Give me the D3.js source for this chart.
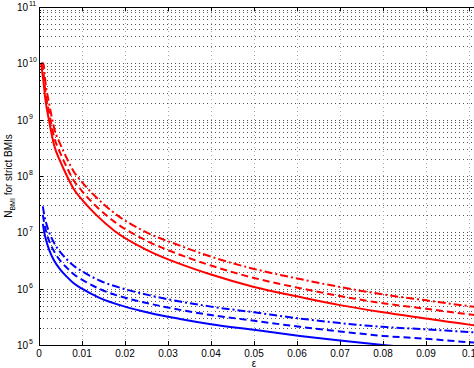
<!DOCTYPE html>
<html>
<head>
<meta charset="utf-8">
<script src="https://cdn.jsdelivr.net/npm/d3@7"></script>
<style>
  html, body { margin: 0; padding: 0; background: #fff; }
  svg { display: block; font-family: "Liberation Sans", Arial, Helvetica, sans-serif; }
</style>
</head>
<body>
<svg id="chart" width="474" height="368"></svg>
<script>
// ---------- data ----------
const epsRed = [0.0005, 0.001, 0.0015, 0.0024, 0.0035, 0.005, 0.0065, 0.008, 0.01, 0.0133, 0.0175, 0.025, 0.0328, 0.04, 0.05, 0.0607, 0.07, 0.08, 0.09, 0.1, 0.103];
const redSolid   = [1e10, 5.0e9, 2.24e9, 9.1e8, 3.55e8, 1.78e8, 1.0e8, 6.0e7, 3.8e7, 2.04e7, 1.07e7, 4.9e6, 2.75e6, 1.78e6, 1.07e6, 7.1e5, 5.1e5, 3.8e5, 2.95e5, 2.3e5, 2.15e5];
const redDashed  = [1e10, 7.1e9, 3.16e9, 1.29e9, 5.0e8, 2.5e8, 1.41e8, 8.5e7, 5.4e7, 2.9e7, 1.55e7, 7.1e6, 4.0e6, 2.57e6, 1.55e6, 1.02e6, 7.4e5, 5.5e5, 4.4e5, 3.5e5, 3.3e5];
const redDashDot = [1e10, 1e10, 4.6e9, 1.86e9, 7.2e8, 3.6e8, 2.04e8, 1.23e8, 7.8e7, 4.2e7, 2.2e7, 1.0e7, 5.8e6, 3.7e6, 2.24e6, 1.48e6, 1.07e6, 7.9e5, 6.2e5, 4.9e5, 4.6e5];

const epsBlue = [0.0009, 0.0012, 0.0018, 0.0025, 0.0035, 0.005, 0.0065, 0.008, 0.01, 0.0142, 0.02, 0.0258, 0.0328, 0.04, 0.05, 0.0607, 0.07, 0.08, 0.09, 0.1, 0.103];
const blueSolid   = [1.41e7, 1.02e7, 6.6e6, 4.6e6, 3.16e6, 2.16e6, 1.62e6, 1.26e6, 1.0e6, 6.8e5, 4.8e5, 3.7e5, 2.9e5, 2.34e5, 1.86e5, 1.45e5, 1.2e5, 1.0e5, 8.5e4, 7.2e4, 6.9e4];
const blueDashed  = [2.04e7, 1.48e7, 9.5e6, 6.6e6, 4.6e6, 3.1e6, 2.34e6, 1.82e6, 1.45e6, 9.8e5, 6.9e5, 5.4e5, 4.2e5, 3.4e5, 2.7e5, 2.1e5, 1.74e5, 1.45e5, 1.29e5, 1.12e5, 1.08e5];
const blueDashDot = [2.9e7, 2.08e7, 1.35e7, 9.4e6, 6.5e6, 4.4e6, 3.3e6, 2.57e6, 2.04e6, 1.38e6, 9.8e5, 7.6e5, 5.9e5, 4.8e5, 3.8e5, 2.95e5, 2.45e5, 2.1e5, 1.9e5, 1.7e5, 1.65e5];

const xTicks = [0, 0.01, 0.02, 0.03, 0.04, 0.05, 0.06, 0.07, 0.08, 0.09, 0.1];
const xTickLabels = ["0", "0.01", "0.02", "0.03", "0.04", "0.05", "0.06", "0.07", "0.08", "0.09", "0.1"];
const yExponents = [5, 6, 7, 8, 9, 10, 11];

const series = [
  { eps: epsRed,  vals: redSolid,    color: "#ff0000", dash: null },
  { eps: epsRed,  vals: redDashed,   color: "#ff0000", dash: "7,4" },
  { eps: epsRed,  vals: redDashDot,  color: "#ff0000", dash: "8,3,2,3" },
  { eps: epsBlue, vals: blueSolid,   color: "#0000ff", dash: null },
  { eps: epsBlue, vals: blueDashed,  color: "#0000ff", dash: "7,4" },
  { eps: epsBlue, vals: blueDashDot, color: "#0000ff", dash: "8,3,2,3" }
];

// ---------- layout ----------
const W = 474, H = 368;
const mLeft = 39, mTop = 7, mBottom = 345, mRight = 469;

const svg = d3.select("#chart");
const x = d3.scaleLinear().domain([0, 0.1]).range([mLeft, mRight]);
const y = d3.scaleLog().domain([1e5, 1e11]).range([mBottom, mTop]);

svg.append("defs").append("clipPath").attr("id", "clip")
  .append("rect").attr("x", mLeft).attr("y", mTop).attr("width", W - mLeft).attr("height", mBottom - mTop);

// ---------- grid ----------
const grid = svg.append("g");
const minorVals = [];
for (let e = 5; e <= 10; e++) for (let k = 1; k <= 9; k++) minorVals.push(k * Math.pow(10, e));
minorVals.push(1e11);
grid.selectAll("line.h").data(minorVals.filter(v => v > 1e5 && v < 1e11)).join("line")
  .attr("x1", mLeft).attr("x2", W)
  .attr("y1", d => Math.round(y(d)) + 0.5).attr("y2", d => Math.round(y(d)) + 0.5)
  .attr("stroke", "#555").attr("stroke-width", 1).attr("stroke-dasharray", "1,3");
grid.selectAll("line.v").data(xTicks.filter(v => v > 0)).join("line")
  .attr("x1", d => Math.round(x(d)) + 0.5).attr("x2", d => Math.round(x(d)) + 0.5)
  .attr("y1", mTop).attr("y2", mBottom)
  .attr("stroke", "#aaa").attr("stroke-width", 1).attr("stroke-dasharray", "1,3");

// ---------- curves ----------
const line = d3.line().curve(d3.curveMonotoneX).x(d => x(d[0])).y(d => y(d[1]));
const curves = svg.append("g").attr("clip-path", "url(#clip)");
series.forEach(s => {
  curves.append("path")
    .datum(s.eps.map((e, i) => [e, s.vals[i]]))
    .attr("d", line)
    .attr("fill", "none")
    .attr("stroke", s.color)
    .attr("stroke-width", 2)
    .attr("stroke-dasharray", s.dash);
});

// ---------- axes box ----------
const axis = svg.append("g").attr("stroke", "#000").attr("stroke-width", 1);
axis.append("line").attr("x1", mLeft + 0.5).attr("x2", mLeft + 0.5).attr("y1", mTop).attr("y2", mBottom + 0.5);
axis.append("line").attr("x1", mLeft).attr("x2", W).attr("y1", mBottom + 0.5).attr("y2", mBottom + 0.5);
axis.append("line").attr("x1", mLeft).attr("x2", W).attr("y1", mTop + 0.5).attr("y2", mTop + 0.5);

xTicks.forEach(t => {
  const px = Math.round(x(t)) + 0.5;
  axis.append("line").attr("x1", px).attr("x2", px).attr("y1", mBottom).attr("y2", mBottom - 4);
  axis.append("line").attr("x1", px).attr("x2", px).attr("y1", mTop).attr("y2", mTop + 4);
});
minorVals.forEach(v => {
  const py = Math.round(y(v)) + 0.5;
  const major = Math.abs(Math.log10(v) - Math.round(Math.log10(v))) < 1e-9;
  axis.append("line").attr("x1", mLeft).attr("x2", mLeft + (major ? 4 : 2)).attr("y1", py).attr("y2", py);
});

// x tick labels
svg.append("g").selectAll("text").data(xTicks).join("text")
  .attr("x", d => x(d)).attr("y", 357)
  .attr("text-anchor", "middle").attr("font-size", 10).attr("fill", "#000")
  .text((d, i) => xTickLabels[i]);

// y tick labels: 10^e
const yl = svg.append("g");
yExponents.forEach(e => {
  yl.append("text").attr("x", 28).attr("y", y(Math.pow(10, e)) + 4)
    .attr("text-anchor", "end").attr("font-size", 10).attr("fill", "#000").text("10");
  yl.append("text").attr("x", 29).attr("y", y(Math.pow(10, e)) - 1)
    .attr("font-size", 7).attr("fill", "#000").text(String(e));
});

// axis labels
svg.append("text").attr("x", x(0.05)).attr("y", 367)
  .attr("text-anchor", "middle").attr("font-size", 10).attr("fill", "#000").text("ε");

const ylabG = svg.append("g");
const ylab = ylabG.append("text")
  .attr("text-anchor", "start").attr("font-size", 10).attr("fill", "#000");
ylab.append("tspan").text("N");
ylab.append("tspan").attr("font-size", 7).attr("dy", 3).text("BMI");
ylab.append("tspan").attr("dy", -3).text(" for strict BMIs");
const labLen = ylab.node().getBBox().width;
ylabG.attr("transform", `translate(12,${(mTop + mBottom) / 2}) rotate(-90) translate(${-labLen / 2},0)`);
</script>
</body>
</html>
